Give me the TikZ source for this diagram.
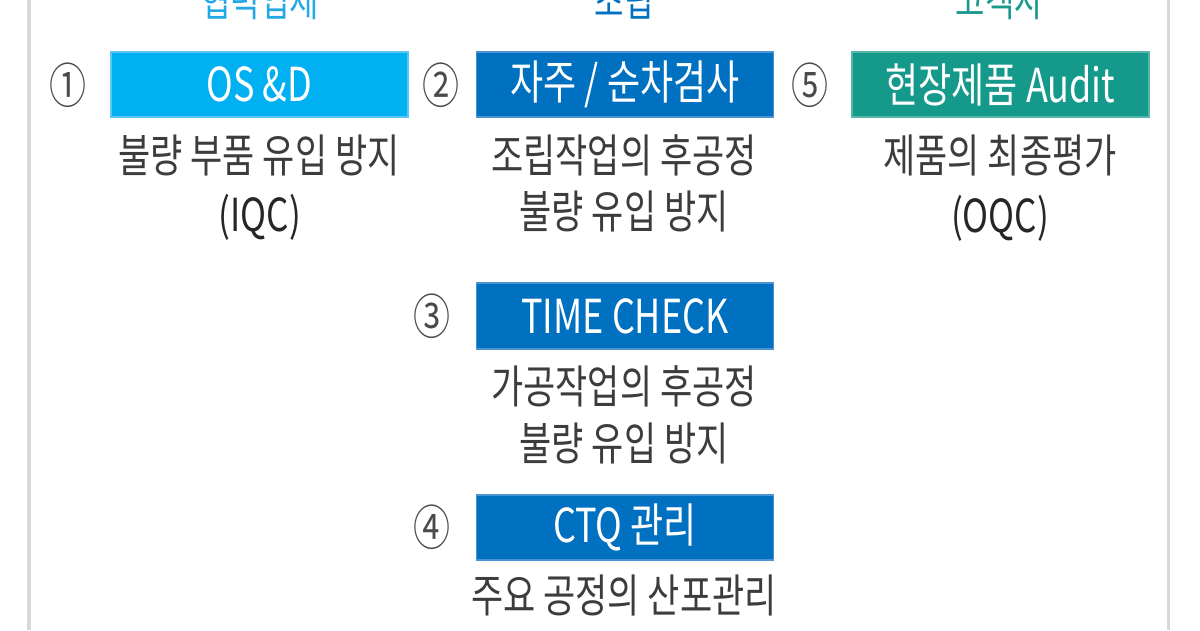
\documentclass[tikz,border=0pt]{standalone}
\usepackage{fontspec}
\setmainfont{Noto Sans CJK KR}
\usetikzlibrary{positioning}
\definecolor{cyanbox}{HTML}{00B0F0}
\definecolor{cyanedge}{HTML}{5CC6F2}
\definecolor{bluebox}{HTML}{0070C0}
\definecolor{blueedge}{HTML}{4A94D2}
\definecolor{tealbox}{HTML}{14998B}
\definecolor{tealedge}{HTML}{55B5AB}
\definecolor{headcyan}{HTML}{22A8E4}
\definecolor{headteal}{HTML}{1A9A8E}
\definecolor{txtgray}{HTML}{3C3C3C}
\definecolor{numgray}{HTML}{4A4A4A}
\definecolor{sidegray}{HTML}{D8D8D8}
\newcommand{\vs}[1]{\scalebox{1}[1.3]{#1}}
\begin{document}
\begin{tikzpicture}[x=1pt,y=-1pt,
  box/.style={rectangle, minimum width=297pt, minimum height=65pt, inner sep=0pt, line width=1.5pt, text=white, font=\fontsize{36}{40}\selectfont},
  desc/.style={text=txtgray, font=\fontsize{35}{40}\selectfont, inner sep=0pt},
  code/.style={text=black!85, font=\fontsize{35}{40}\selectfont, inner sep=0pt},
  num/.style={text=numgray, font=\fontsize{37}{40}\selectfont, inner sep=0pt},
  head/.style={font=\fontsize{32}{36}\selectfont, inner sep=0pt},
  sideline/.style={sidegray, line width=4pt}]
\useasboundingbox (0,0) rectangle (1200,630);
\clip (0,0) rectangle (1200,630);
\fill[white] (0,0) rectangle (1200,630);
% side lines
\coordinate (lt) at (29,0); \coordinate (lb) at (29,630);
\coordinate (rt) at (1168,0); \coordinate (rb) at (1168,630);
\draw[sideline] (lt) -- (lb);
\draw[sideline, line width=3pt] (rt) -- (rb);
% headers (clipped at top, as in the reference)
\node[head, text=headcyan] (h1) at (260,1) {\vs{협력업체}};
\node[head, text=bluebox] (h2) at (624,1) {\vs{조립}};
\node[head, text=headteal] (h3) at (1000,1) {\vs{고객사}};
% boxes
\node[box, fill=cyanbox, draw=cyanedge] (b1) at (259.5,84.5) {\vs{OS \&D}};
\node[box, fill=bluebox, draw=blueedge] (b2) at (625,84.5) {\vs{자주 / 순차검사}};
\node[box, fill=tealbox, draw=tealedge] (b5) at (1000.5,84.5) {\vs{현장제품 Audit}};
\node[box, fill=bluebox, draw=blueedge, minimum height=66pt] (b3) at (625,316) {\vs{TIME CHECK}};
\node[box, fill=bluebox, draw=blueedge] (b4) at (625,527.5) {\vs{CTQ 관리}};
% numbers
\node[num] (c1) at (68,85) {\vs{①}};
\node[num] (c2) at (441,85) {\vs{②}};
\node[num] (c5) at (810,85) {\vs{⑤}};
\node[num] (c3) at (432,316) {\vs{③}};
\node[num] (c4) at (432,527) {\vs{④}};
% descriptions
\node[desc] (d1a) at (259,155) {\vs{불량 부품 유입 방지}};
\node[code] (d1b) at (260,217) {\vs{(IQC)}};
\node[desc] (d2a) at (624,155) {\vs{조립작업의 후공정}};
\node[desc] (d2b) at (624,211) {\vs{불량 유입 방지}};
\node[desc] (d5a) at (1000,155) {\vs{제품의 최종평가}};
\node[code] (d5b) at (1000,218) {\vs{(OQC)}};
\node[desc] (d3a) at (624,386) {\vs{가공작업의 후공정}};
\node[desc] (d3b) at (624,443) {\vs{불량 유입 방지}};
\node[desc] (d4a) at (624,595) {\vs{주요 공정의 산포관리}};
\end{tikzpicture}
\end{document}
